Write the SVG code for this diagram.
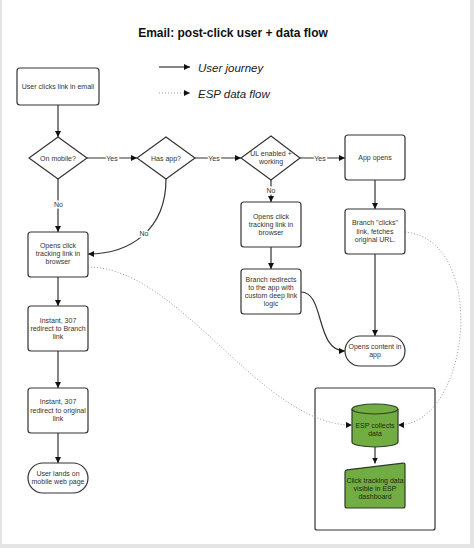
<svg xmlns="http://www.w3.org/2000/svg" width="474" height="548" viewBox="0 0 474 548">
<style>
.box{fill:#fff;stroke:#333;stroke-width:1.2}
.green{fill:#72ad43;stroke:#2f3a25;stroke-width:1.2}
.t{font-family:"Liberation Sans",Arial,sans-serif;font-size:7px;fill:#333;text-anchor:middle}
.lbl{font-family:"Liberation Sans",Arial,sans-serif;font-size:7px;fill:#333;text-anchor:middle;stroke:#fff;stroke-width:3;paint-order:stroke}
.ln{fill:none;stroke:#333;stroke-width:1.2;marker-end:url(#ah)}
.dot{fill:none;stroke:#999;stroke-width:1;stroke-dasharray:1 2;marker-end:url(#ah)}
</style>
<defs>
<marker id="ah" markerUnits="userSpaceOnUse" markerWidth="6" markerHeight="6" refX="6" refY="3" orient="auto"><path d="M0,0 L6,3 L0,6 z" fill="#111"/></marker>
</defs>
<rect x="0" y="0" width="474" height="548" fill="#e4e4e4"/>
<rect x="2" y="0" width="468" height="544" fill="#fff"/>
<text x="233" y="37" font-family="Liberation Sans,Arial,sans-serif" font-size="12" font-weight="bold" text-anchor="middle" fill="#111">Email: post-click user + data flow</text>
<g id="legend">
<line x1="159" y1="67" x2="190" y2="67" class="ln"/>
<line x1="159" y1="93" x2="190" y2="93" class="dot"/>
<text x="198" y="71.5" font-family="Liberation Sans,Arial,sans-serif" font-size="11.5" font-style="italic" fill="#222">User journey</text>
<text x="198" y="97.5" font-family="Liberation Sans,Arial,sans-serif" font-size="11.5" font-style="italic" fill="#222">ESP data flow</text>
</g>
<g id="esp_box"><rect x="315" y="388" width="120" height="142" rx="2" class="box"/></g>
<g id="connectors">
<line x1="58" y1="105" x2="58" y2="137" class="ln"/>
<line x1="87" y1="158" x2="137" y2="158" class="ln"/>
<line x1="195" y1="158" x2="241" y2="158" class="ln"/>
<line x1="300" y1="158" x2="345" y2="158" class="ln"/>
<line x1="58" y1="179" x2="58" y2="232" class="ln"/>
<path d="M166 179 C166 230 130 254 88 254" class="ln"/>
<line x1="375" y1="180" x2="375" y2="209" class="ln"/>
<line x1="375" y1="254" x2="375" y2="336" class="ln"/>
<line x1="271" y1="180" x2="271" y2="202" class="ln"/>
<line x1="271" y1="247" x2="271" y2="269" class="ln"/>
<path d="M301 292 C325 292 315 351 345 351" class="ln"/>
<line x1="58" y1="277" x2="58" y2="306" class="ln"/>
<line x1="58" y1="351" x2="58" y2="388" class="ln"/>
<line x1="58" y1="433" x2="58" y2="463" class="ln"/>
<line x1="375" y1="447" x2="375" y2="463.5" class="ln"/>
<path d="M88 267 C180 267 260 425 352 425" class="dot"/>
<path d="M405 232 C490 240 470 425 398 425" class="dot"/>
<text x="112" y="160.5" class="lbl">Yes</text>
<text x="214" y="160.5" class="lbl">Yes</text>
<text x="320" y="160.5" class="lbl">Yes</text>
<text x="58.5" y="206.5" class="lbl">No</text>
<text x="144" y="236" class="lbl">No</text>
<text x="271" y="192.5" class="lbl">No</text>
</g>
<g id="n_start"><rect x="17" y="68" width="82" height="37" rx="3" class="box"/><text x="58" y="89" class="t">User clicks link in email</text></g>
<g id="d_mobile"><polygon points="58,137 87,158 58,179 29,158" class="box"/><text x="58" y="160.5" class="t">On mobile?</text></g>
<g id="d_app"><polygon points="166,137 195,158 166,179 137,158" class="box"/><text x="166" y="160.5" class="t">Has app?</text></g>
<g id="d_ul"><polygon points="271,136 300,158 271,180 241,158" class="box"/><text x="271" y="156" class="t">UL enabled +</text><text x="271" y="164" class="t">working</text></g>
<g id="n_appopens"><rect x="345" y="135" width="60" height="45" rx="3" class="box"/><text x="375" y="159.5" class="t">App opens</text></g>
<g id="n_fetch"><rect x="345" y="209" width="60" height="45" rx="3" class="box"/><text x="375" y="225" class="t">Branch "clicks"</text><text x="375" y="233.5" class="t">link, fetches</text><text x="375" y="241.5" class="t">original URL.</text></g>
<g id="n_browser2"><rect x="241" y="202" width="60" height="45" rx="3" class="box"/><text x="271" y="218.5" class="t">Opens click</text><text x="271" y="226.5" class="t">tracking link in</text><text x="271" y="234.5" class="t">browser</text></g>
<g id="n_redirect"><rect x="241" y="269" width="60" height="45" rx="3" class="box"/><text x="271" y="282" class="t">Branch redirects</text><text x="271" y="290" class="t">to the app with</text><text x="271" y="298" class="t">custom deep link</text><text x="271" y="306" class="t">logic</text></g>
<g id="n_content"><rect x="345" y="336" width="60" height="30" rx="15" class="box"/><text x="375" y="349" class="t">Opens content in</text><text x="375" y="357" class="t">app</text></g>
<g id="n_browser1"><rect x="28" y="232" width="60" height="45" rx="3" class="box"/><text x="58" y="248" class="t">Opens click</text><text x="58" y="256" class="t">tracking link in</text><text x="58" y="264" class="t">browser</text></g>
<g id="n_branch307"><rect x="28" y="306" width="60" height="45" rx="3" class="box"/><text x="58" y="322.5" class="t">Instant, 307</text><text x="58" y="330.5" class="t">redirect to Branch</text><text x="58" y="338.5" class="t">link</text></g>
<g id="n_orig307"><rect x="28" y="388" width="60" height="45" rx="3" class="box"/><text x="58" y="404" class="t">Instant, 307</text><text x="58" y="412.5" class="t">redirect to original</text><text x="58" y="420.5" class="t">link</text></g>
<g id="n_lands"><rect x="28" y="463" width="60" height="30" rx="15" class="box"/><text x="58" y="475.5" class="t">User lands on</text><text x="58" y="483.5" class="t">mobile web page</text></g>
<g id="n_collect"><path d="M352 409 A23 5 0 0 1 398 409 L398 442 A23 5 0 0 1 352 442 Z" class="green"/><path d="M352 409 A23 5 0 0 0 398 409" class="green"/><text x="375" y="427.5" class="t" style="fill:#1a2a10">ESP collects</text><text x="375" y="436" class="t" style="fill:#1a2a10">data</text></g>
<g id="n_dashboard"><path d="M347 469.8 L403 463.2 Q405 463 405 465 L405 506 Q405 508 403 508 L347 508 Q345 508 345 506 L345 472 Q345 470 347 469.8 Z" class="green"/><text x="375" y="483" class="t" style="fill:#1a2a10">Click tracking data</text><text x="375" y="491" class="t" style="fill:#1a2a10">visible in ESP</text><text x="375" y="499" class="t" style="fill:#1a2a10">dashboard</text></g>
</svg>
